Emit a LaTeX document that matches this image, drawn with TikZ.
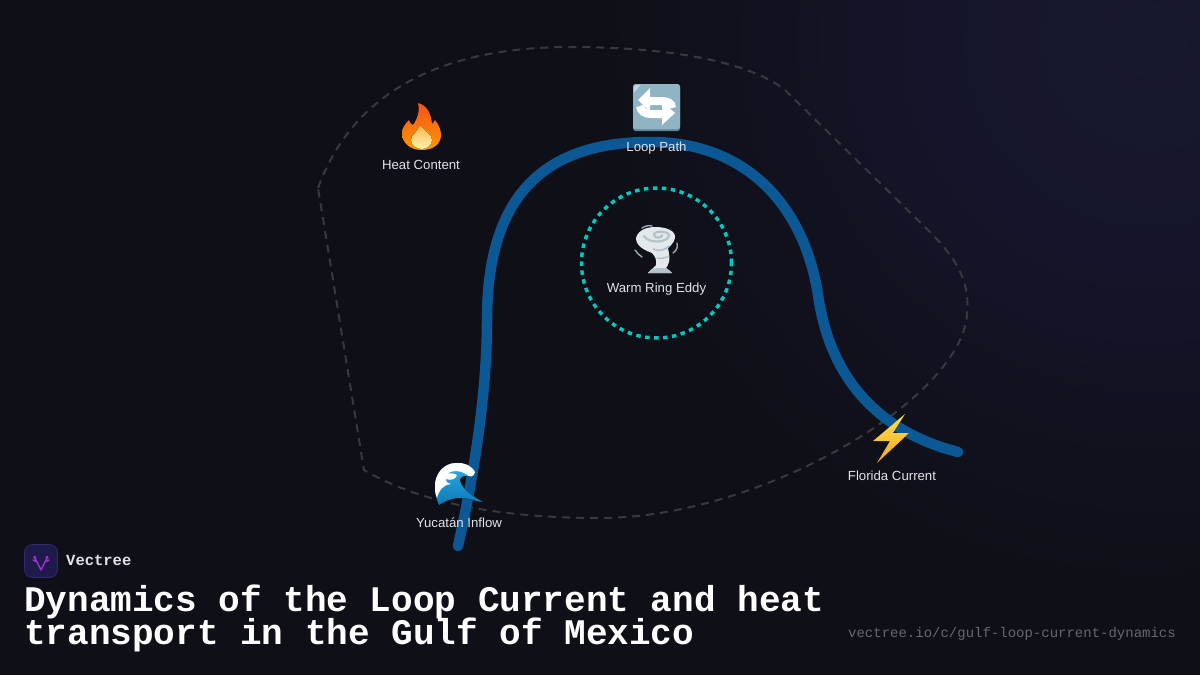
\documentclass[tikz,border=0pt]{standalone}
\usepackage{fontspec}
\setmainfont{Liberation Sans}
\newfontfamily\monof{Liberation Mono}
\definecolor{basebg}{HTML}{0F0F17}
\definecolor{glowa}{HTML}{16182E}
\definecolor{glowb}{HTML}{14152A}
\definecolor{glowc}{HTML}{11121F}
\definecolor{streamc}{HTML}{0B5895}
\definecolor{dashc}{HTML}{36393E}
\definecolor{teal}{HTML}{00C9C1}
\definecolor{labelc}{HTML}{E2E2E6}
\definecolor{urlc}{HTML}{66686E}
\definecolor{sqc}{HTML}{90B4C4}
\definecolor{sqd}{HTML}{5F8A9C}
\definecolor{tora}{HTML}{E3E8EB}
\definecolor{torb}{HTML}{B4C3CA}
\definecolor{tord}{HTML}{9BABB3}
\definecolor{logoa}{HTML}{1E1B4B}
\definecolor{logob}{HTML}{2E2A6B}
\definecolor{vee}{HTML}{A02FD0}
\definecolor{firea}{HTML}{F4511E}
\definecolor{fireb}{HTML}{FF9800}
\definecolor{firec}{HTML}{FFB74D}
\definecolor{fired}{HTML}{FFF3B0}
\definecolor{wavea}{HTML}{2BB0E6}
\definecolor{waveb}{HTML}{0D78B6}
\definecolor{bolta}{HTML}{FFE14D}
\definecolor{boltb}{HTML}{F5A623}
\pgfdeclareradialshading{bgglow}{\pgfpoint{0bp}{0bp}}{color(0bp)=(glowa); color(10bp)=(glowb); color(17bp)=(glowc); color(25bp)=(basebg); color(50bp)=(basebg)}
\tikzset{
  lbl/.style={font=\fontsize{13.2}{13.2}\selectfont, text=labelc, inner sep=0pt, anchor=base},
  titletxt/.style={font=\monof\bfseries\fontsize{36.02}{36.02}\selectfont, text=white, inner sep=0pt, anchor=base west},
  stream/.style={draw=streamc, line width=10.5pt, line cap=round},
  outline/.style={draw=dashc, line width=2pt, dash pattern=on 8pt off 6pt},
  eddy/.style={draw=teal, line width=3.5pt, dash pattern=on 4.5pt off 4.5pt},
  arcline/.style={draw=tord, line width=1.4pt, line cap=round},
}
\begin{document}
\begin{tikzpicture}[x=1pt,y=-1pt]
\useasboundingbox (0,0) rectangle (1200,675);
\clip (0,0) rectangle (1200,675);
\fill[basebg] (0,0) rectangle (1200,675);
\shade[shading=bgglow] (1150,40) circle (560pt);
% basin outline
\path[outline] (318,188) .. controls (350,100) and (430,47) .. (570,47)
  .. controls (670,47) and (750,62) .. (785,90)
  -- (930,232) .. controls (960,262) and (970,285) .. (967,315)
  .. controls (960,400) and (760,518) .. (600,518)
  .. controls (500,518) and (420,503) .. (364,470) -- cycle;
% loop current
\path[stream] (458,546) .. controls (475,470) and (487,390) .. (487,320)
  .. controls (487,200) and (540,142) .. (650,142)
  .. controls (750,142) and (805,210) .. (818,295)
  .. controls (830,380) and (880,432) .. (958,452);
% eddy ring
\node[eddy, circle, minimum size=150pt, inner sep=0pt] (ring) at (656.5,263) {};
% fire
\fill[top color=firea, bottom color=fireb]
  (418,103) .. controls (426,105) and (431,112) .. (432,124)
  .. controls (433,123) and (434,122) .. (435,120)
  .. controls (439,125) and (441,130) .. (441,135)
  .. controls (441,144) and (433,150) .. (422,150)
  .. controls (410,150) and (402,143) .. (402,133)
  .. controls (402,128) and (405,124) .. (409,120)
  .. controls (409,122) and (411,124) .. (413,125)
  .. controls (418,118) and (420,110) .. (418,103) -- cycle;
\fill[top color=firec, bottom color=fired]
  (420,125) .. controls (424,131) and (432,134) .. (432,140)
  .. controls (432,145) and (427,149) .. (422,149)
  .. controls (416,149) and (411,145) .. (411,140)
  .. controls (411,135) and (418,132) .. (420,125) -- cycle;
% repeat icon
\fill[sqd, rounded corners=2.5pt] (633,85) rectangle (680,131);
\fill[sqc, rounded corners=2.5pt] (633,84) rectangle (680,129);
\fill[white!45!sqc] (634,93) -- (634,87) .. controls (634,86) and (635,85) .. (636,85) -- (641,85) .. controls (638,87) and (636,90) .. (634,93) -- cycle;
\draw[white, line width=8pt] (648,101) -- (661,101) .. controls (668,101) and (672,103) .. (672,108);
\fill[white] (638,100) -- (650,88) -- (650,112) -- cycle;
\draw[white, line width=8pt] (664,114) -- (651,114) .. controls (644,114) and (641,111) .. (640,106);
\fill[white] (675,113) -- (662,102) -- (662,125) -- cycle;
% tornado
\fill[tora] (636,238) .. controls (638,230) and (647,227) .. (655,227)
  .. controls (667,227) and (676,231) .. (675,238)
  .. controls (674,243) and (670,246) .. (668,248)
  .. controls (669,253) and (670,258) .. (669,262)
  .. controls (668,265) and (667,267) .. (666,268)
  .. controls (668,270) and (671,271) .. (672,273)
  -- (648,273) .. controls (650,270) and (654,268) .. (656,265)
  .. controls (657,260) and (655,256) .. (652,253)
  .. controls (644,250) and (636,246) .. (636,238) -- cycle;
\fill[torb] (648,273) -- (672,273) .. controls (671,271) and (668,270) .. (666,268) .. controls (660,268) and (656,268) .. (653,269) -- cycle;
\draw[torb, line width=2.2pt, line cap=round] (644,236) .. controls (648,244) and (669,243) .. (669,235) .. controls (668,231) and (654,230) .. (654,235) .. controls (655,239) and (663,238) .. (662,235);
\draw[torb, line width=1.6pt] (653,249) .. controls (659,252) and (665,250) .. (669,246);
\draw[torb, line width=1.4pt] (657,258) .. controls (661,259) and (666,258) .. (669,256);
\path[arcline] (642,228) .. controls (645,226) and (649,225) .. (652,226);
\path[arcline] (635,250) .. controls (637,253) and (639,255) .. (642,257);
\path[arcline] (673,253) .. controls (677,250) and (678,247) .. (677,243);
% wave
\fill[top color=wavea, bottom color=waveb]
  (456,463) .. controls (444,463) and (434,474) .. (435,488)
  .. controls (435,495) and (437,500) .. (439,505)
  .. controls (446,500) and (456,497) .. (465,498)
  .. controls (472,499) and (478,502) .. (483,502)
  .. controls (472,496) and (463,490) .. (460,481)
  .. controls (459,477) and (464,475) .. (470,476)
  .. controls (468,470) and (464,464) .. (456,463) -- cycle;
\fill[white] (456,463) .. controls (444,463) and (434,474) .. (435,488)
  .. controls (435,493) and (436,496) .. (437,498)
  .. controls (439,490) and (443,485) .. (451,484)
  .. controls (447,483) and (445,481) .. (446,479)
  .. controls (451,481) and (456,479) .. (457,475)
  .. controls (454,473) and (449,473) .. (447,474)
  .. controls (451,470) and (460,470) .. (466,474)
  .. controls (470,478) and (474,477) .. (475,472)
  .. controls (471,465) and (463,462) .. (456,463) -- cycle;
% bolt
\fill[top color=bolta, bottom color=boltb]
  (905,414) -- (873,441) -- (890,441) -- (877,463) -- (909,433) -- (893,433) -- cycle;
% labels
\node[lbl] (heat) at (421,169) {Heat Content};
\node[lbl] (loop) at (656.5,151) {Loop Path};
\node[lbl] (warm) at (656.5,292) {Warm Ring Eddy};
\node[lbl] (yuc) at (459,527) {Yucatán Inflow};
\node[lbl] (flo) at (892,480) {Florida Current};
% brand
\fill[draw=logob, line width=.8pt, fill=logoa, rounded corners=8pt] (24.5,544.5) rectangle (57.5,577.5);
\draw[vee, line width=1.5pt, line cap=round] (41,570) -- (35,558) (41,570) -- (47,558) (37,562) -- (33,560) (45,562) -- (49,560);
\fill[vee] (34.7,557.2) circle (1.6pt) (47,557.2) circle (1.6pt);
\node[font=\monof\bfseries\fontsize{15.5}{15.5}\selectfont, text=labelc, inner sep=0pt, anchor=base west] (brand) at (66,565.5) {Vectree};
\node[titletxt] (t1) at (24,611) {Dynamics of the Loop Current and heat};
\node[titletxt] (t2) at (24,644) {transport in the Gulf of Mexico};
\node[font=\monof\fontsize{14}{14}\selectfont, text=urlc, inner sep=0pt, anchor=base east] (url) at (1176,637) {vectree.io/c/gulf-loop-current-dynamics};
\end{tikzpicture}
\end{document}
